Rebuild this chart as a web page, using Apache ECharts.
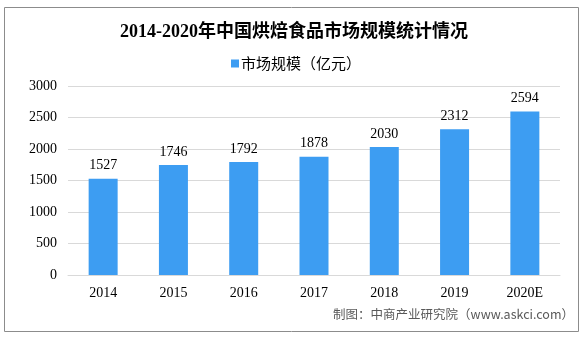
<!DOCTYPE html>
<html>
<head>
<meta charset="utf-8">
<script src="https://cdn.jsdelivr.net/npm/echarts@6/dist/echarts.min.js"></script>
<style>html,body{margin:0;padding:0;background:#fff}#chart-container{width:588px;height:341px}</style>
</head>
<body>
<div id="chart-container"></div>
<script>
var years = ["2014", "2015", "2016", "2017", "2018", "2019", "2020E"];
var marketSize = [1527, 1746, 1792, 1878, 2030, 2312, 2594];
var yTicks = [0, 500, 1000, 1500, 2000, 2500, 3000];

var serif = "'Liberation Serif', 'Noto Sans CJK SC', serif";
var dom = document.getElementById("chart-container");
var myChart = echarts.init(dom, null, { renderer: "canvas" });

var option = {
  animation: false,
  title: {
    text: "2014-2020年中国烘焙食品市场规模统计情况",
    left: "center",
    top: 18,
    textStyle: { fontFamily: serif, fontSize: 18, fontWeight: "bold", color: "#000" }
  },
  legend: {
    data: ["市场规模（亿元）"],
    top: 51,
    left: 226,
    icon: "rect",
    itemWidth: 8,
    itemHeight: 8,
    itemGap: 4,
    textStyle: { fontFamily: "'Noto Sans CJK SC', sans-serif", fontSize: 15, color: "#000", padding: [0, 0, 0, -3] }
  },
  grid: { left: 68, right: 28, top: 86, bottom: 66, containLabel: false },
  xAxis: {
    type: "category",
    data: years,
    axisLine: { lineStyle: { color: "#d9d9d9" } },
    axisTick: { show: false },
    axisLabel: { fontFamily: serif, fontSize: 14, color: "#000", margin: 11 }
  },
  yAxis: {
    type: "value",
    min: yTicks[0],
    max: yTicks[yTicks.length - 1],
    interval: 500,
    axisLine: { show: false },
    axisTick: { show: false },
    splitLine: { lineStyle: { color: "#d9d9d9" } },
    axisLabel: {
      fontFamily: serif, fontSize: 14, color: "#000", margin: 11,
      formatter: function (v) { return String(v); }
    }
  },
  series: [
    {
      name: "市场规模（亿元）",
      type: "bar",
      data: marketSize,
      barWidth: 29,
      itemStyle: { color: "#3d9df2" },
      label: { show: true, position: "top", fontFamily: serif, fontSize: 14, color: "#000", distance: 6 }
    }
  ],
  graphic: [
    {
      type: "rect",
      shape: { x: 4.5, y: 7.5, width: 574, height: 324 },
      style: { fill: null, stroke: "#8c8c8c", lineWidth: 1 },
      z: -1
    },
    {
      type: "text",
      right: 14,
      top: 308,
      style: {
        text: "制图：中商产业研究院（www.askci.com）",
        font: "12.5px 'Noto Sans CJK SC', sans-serif",
        fill: "#595959"
      }
    }
  ]
};

myChart.setOption(option);
window.addEventListener("resize", myChart.resize);
</script>
</body>
</html>
